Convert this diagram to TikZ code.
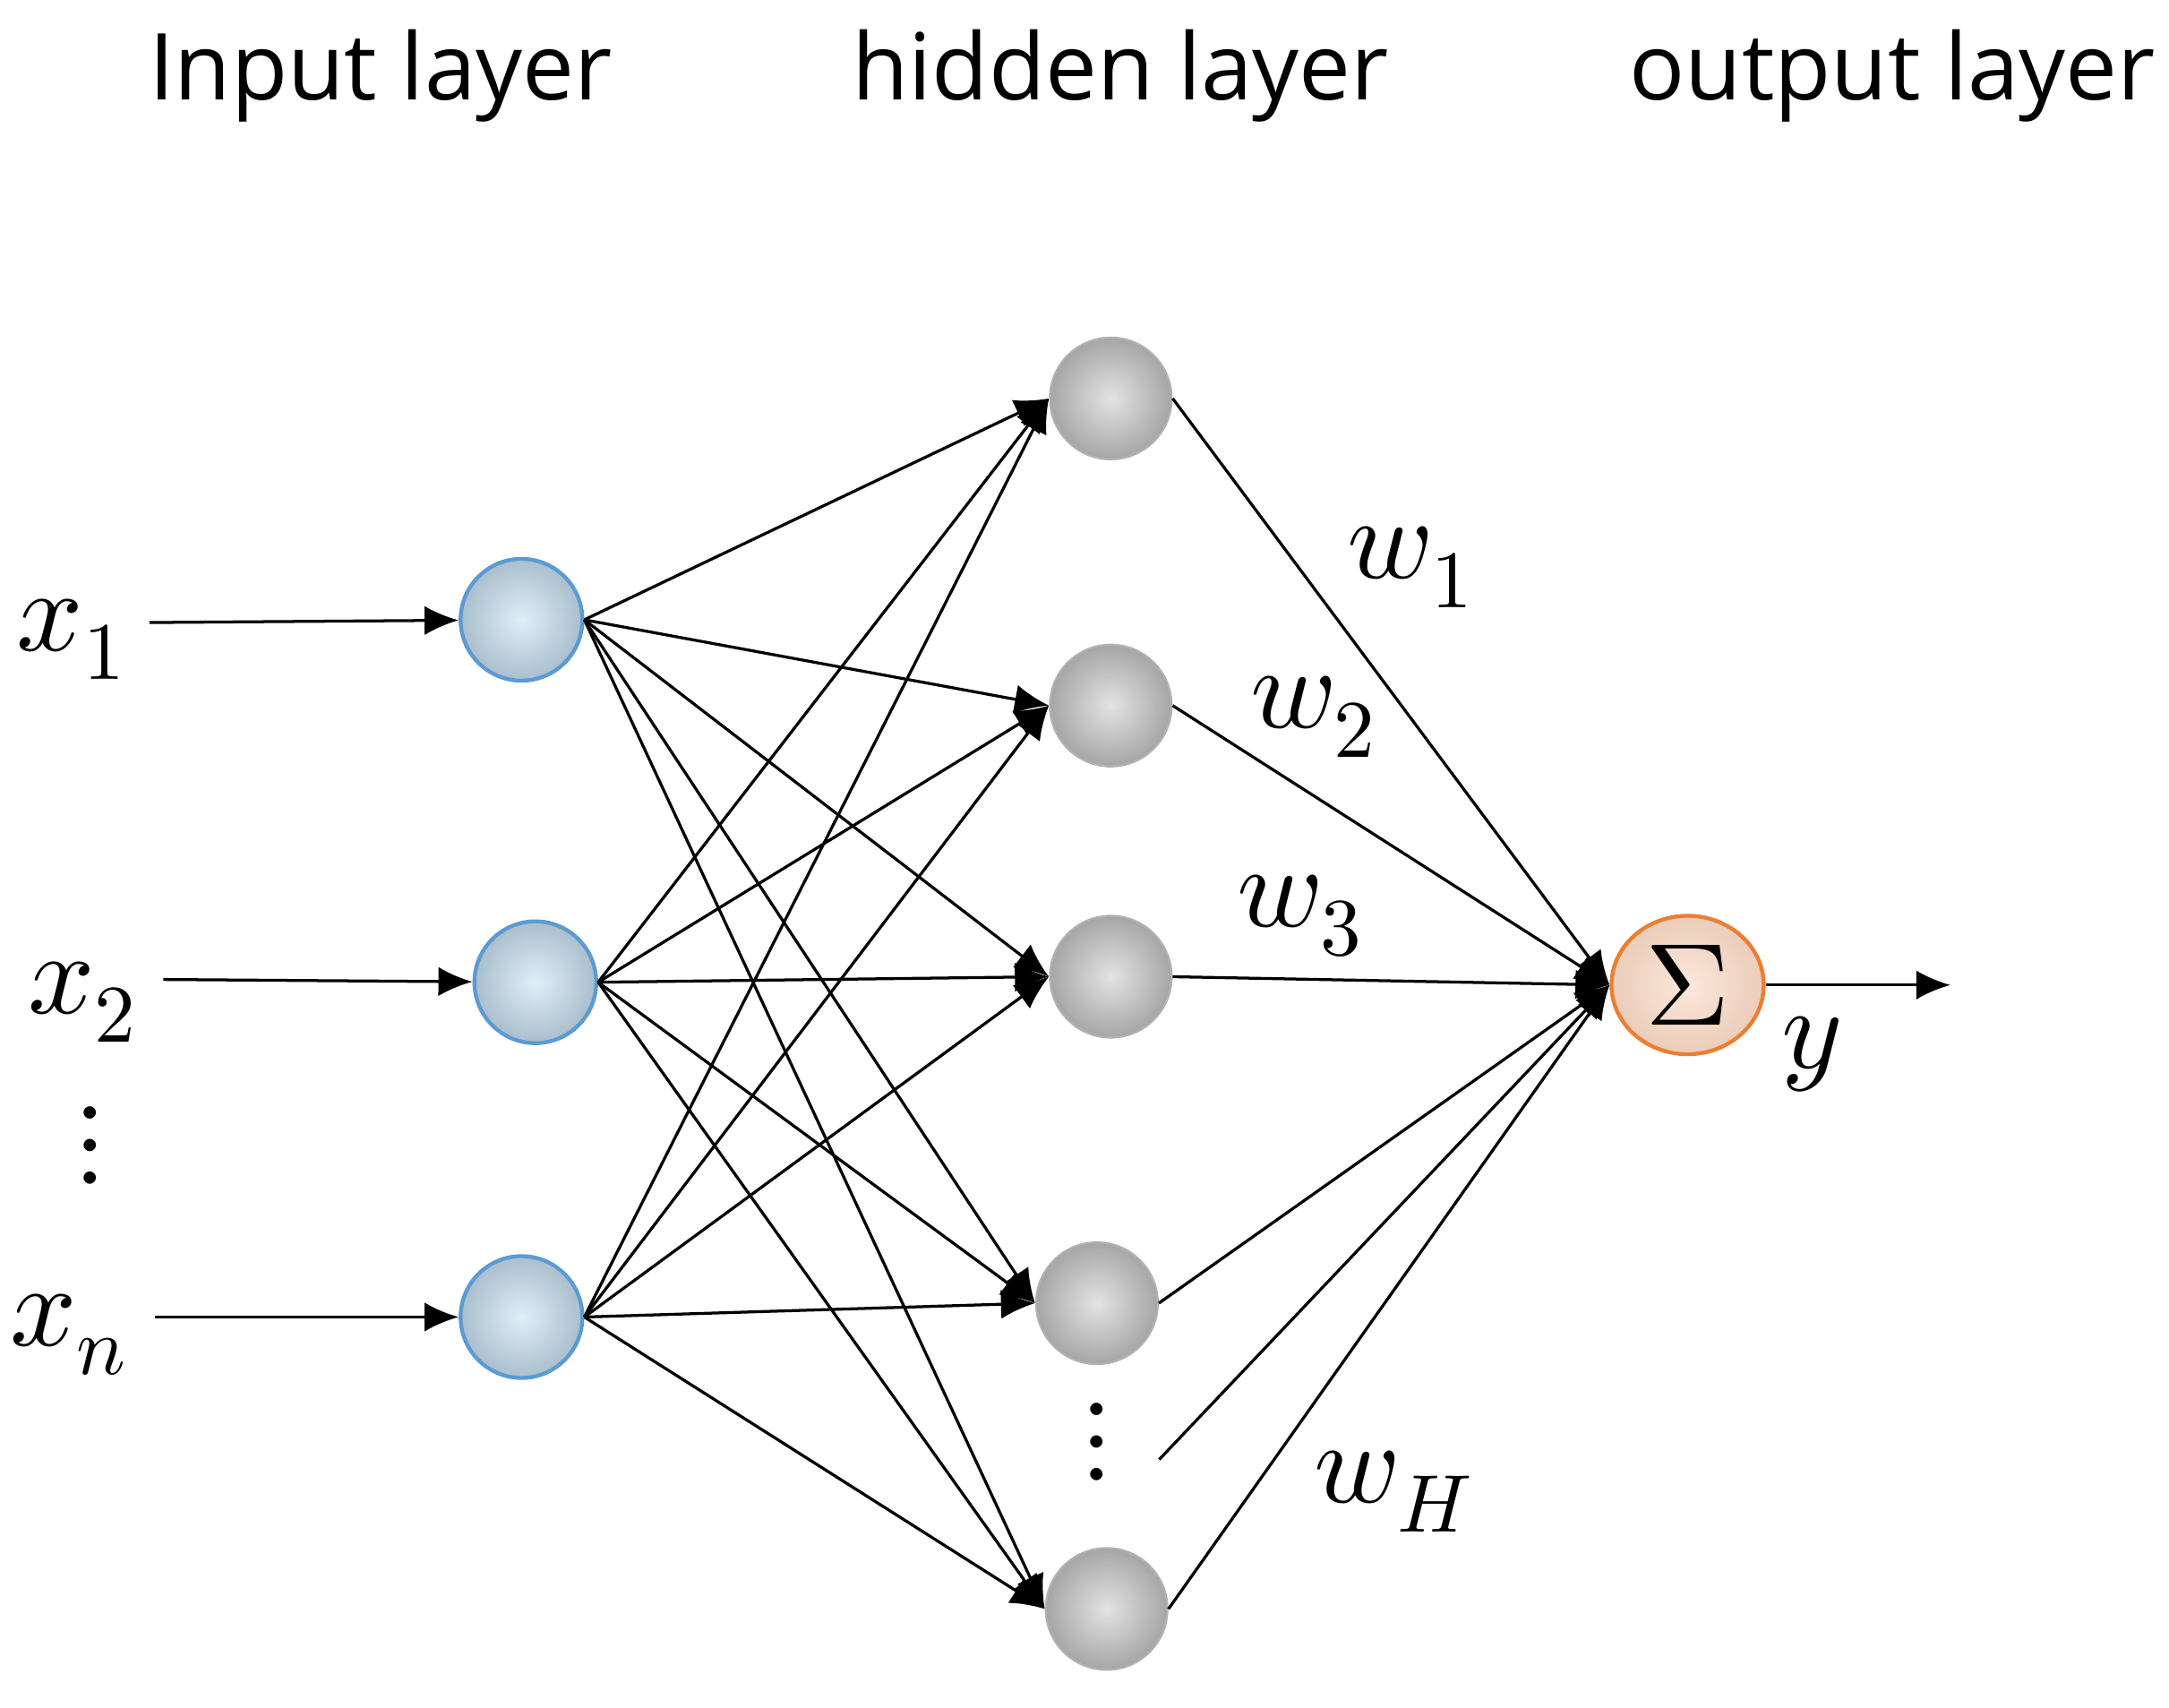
\documentclass[tikz,border=0pt]{standalone}
\usepackage{fontspec}
\setmainfont{Open Sans}
\usepackage{unicode-math}
\setmathfont{Latin Modern Math}
\usetikzlibrary{arrows.meta,shapes.geometric}
\begin{document}
\begin{tikzpicture}[x=0.01cm,y=-0.01cm,
    inp/.style={circle,minimum size=0.88cm,draw={rgb,255:red,91;green,155;blue,213},thick,inner color={rgb,255:red,225;green,238;blue,248},outer color={rgb,255:red,170;green,190;blue,205}},
    hid/.style={circle,minimum size=0.88cm,draw=gray!60,inner color=gray!22,outer color=gray!70},
    outn/.style={ellipse,minimum width=1.1cm,minimum height=1.0cm,draw={rgb,255:red,237;green,125;blue,49},thick,inner color={rgb,255:red,252;green,232;blue,220},outer color={rgb,255:red,235;green,205;blue,185},inner sep=0pt},
    con/.style={-{Latex[length=7pt,width=6pt]},line width=0.6pt},
    lab/.style={font=\fontsize{24}{28}\selectfont},
    head/.style={font=\fontsize{19}{23}\selectfont}]
  \useasboundingbox (0,0) rectangle (1568,1234);
  % headers
  \node[head] (h1) at (275,55) {Input layer};
  \node[head] (h2) at (810,55) {hidden layer};
  \node[head] (h3) at (1368,55) {output layer};
  % input nodes
  \node[inp] (i1) at (377,448) {};
  \node[inp] (i2) at (387,710) {};
  \node[inp] (i3) at (377,952) {};
  % hidden nodes
  \node[hid] (n1) at (803,288) {};
  \node[hid] (n2) at (803,510) {};
  \node[hid] (n3) at (803,706) {};
  \node[hid] (n4) at (793,942) {};
  \node[hid] (n5) at (800,1163) {};
  % output node
  \node[outn] (o) at (1220,712) {\fontsize{24}{28}\selectfont$\Sigma$};
  % input labels
  \node[lab] (x1) at (52,462) {$x_1$};
  \node[lab] (x2) at (60,724) {$x_2$};
  \node[lab] (xd) at (65,828) {$\vdots$};
  \node[lab] (xn) at (50,965) {$x_n$};
  \coordinate (c1) at (108,450);
  \coordinate (c2) at (118,708);
  \coordinate (c3) at (112,952);
  \draw[con] (c1) -- (i1);
  \draw[con] (c2) -- (i2);
  \draw[con] (c3) -- (i3);
  % input to hidden
  \foreach \i in {i1,i2,i3}
    \foreach \h in {n1,n2,n3,n4,n5}
      \draw[con] (\i.east) -- (\h.west);
  % hidden to output
  \foreach \h in {n1,n2,n3,n4,n5}
    \draw[con] (\h.east) -- (o.west);
  \coordinate (s) at (838,1055);
  \draw[con] (s) -- (o.west);
  \node[lab] (hd) at (793,1042) {$\vdots$};
  % weights
  \node[lab] (w1) at (1020,410) {$w_1$};
  \node[lab] (w2) at (950,518) {$w_2$};
  \node[lab] (w3) at (940,662) {$w_3$};
  \node[lab] (wH) at (1008,1078) {$w_H$};
  % output
  \coordinate (e) at (1410,712);
  \draw[con] (o.east) -- (e);
  \node[lab] (y) at (1310,762) {$y$};
\end{tikzpicture}
\end{document}
